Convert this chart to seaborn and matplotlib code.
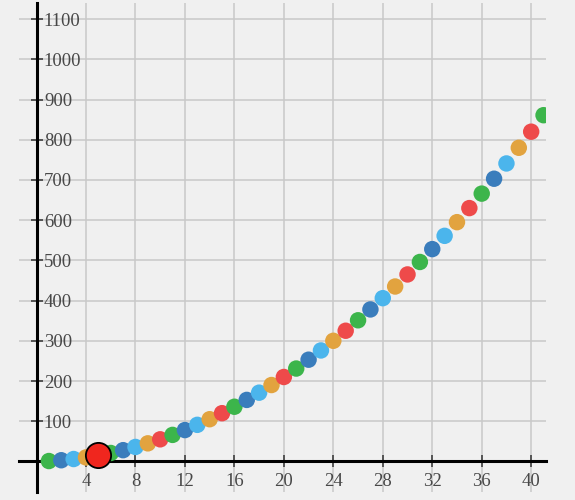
import matplotlib
matplotlib.use('Agg')
import matplotlib.pyplot as plt
import seaborn as sns
import pandas as pd

# ==========================================
# data
# ==========================================
x_vals = list(range(1, 42))
y_vals = [1, 3, 6, 10, 15, 21, 28, 36, 45, 55,
          66, 78, 91, 105, 120, 136, 153, 171, 190, 210,
          231, 253, 276, 300, 325, 351, 378, 406, 435, 465,
          496, 528, 561, 595, 630, 666, 703, 741, 780, 820, 861]
highlight_x = [5]
highlight_y = [15]

x_ticks = [4, 8, 12, 16, 20, 24, 28, 32, 36, 40]
y_ticks = [100, 200, 300, 400, 500, 600, 700, 800, 900, 1000, 1100]

dot_colors = ['#3cb54b', '#3a7dbc', '#4bb5ec', '#e2a33f', '#ee4a4a']

# ==========================================
# plot
# ==========================================
sns.set_style('white')
plt.rcParams['font.family'] = ['Liberation Serif', 'DejaVu Serif']

df = pd.DataFrame({'x': x_vals, 'y': y_vals})
df['grp'] = [(i % len(dot_colors)) for i in range(len(df))]
df_hi = pd.DataFrame({'x': highlight_x, 'y': highlight_y})

fig = plt.figure(figsize=(5.75, 5), dpi=100, facecolor='#f0f0f0')
ax = fig.add_axes([0.033, 0.016, 0.9166, 0.978])
ax.set_facecolor('#f0f0f0')

sns.scatterplot(data=df, x='x', y='y', hue='grp', palette=dot_colors,
                s=140, linewidth=0, legend=False, ax=ax, zorder=3)
sns.scatterplot(data=df_hi, x='x', y='y', color='#f0261e', s=330,
                edgecolor='black', linewidth=1.3, legend=False, ax=ax, zorder=4)
for coll in ax.collections:
    coll.set_clip_on(True)
    coll.set_clip_path(ax.patch)

ax.set_xlim(-1.42, 41.2)
ax.set_ylim(-76, 1140)
ax.set_xticks(x_ticks)
ax.set_yticks(y_ticks)

# axes through the origin, labels to the right of the y axis
ax.spines['left'].set_visible(False)
ax.spines['top'].set_visible(False)
ax.spines['right'].set_position(('data', 0))
ax.spines['bottom'].set_position(('data', 0))
for side in ['right', 'bottom']:
    ax.spines[side].set_linewidth(2.2)
    ax.spines[side].set_color('black')
    ax.spines[side].set_zorder(2)
ax.yaxis.set_ticks_position('right')
ax.xaxis.set_ticks_position('bottom')
ax.tick_params(axis='both', direction='inout', length=8.6, width=1.1,
               color='#333333', labelcolor='#484848', labelsize=13.5)
ax.tick_params(axis='y', pad=1)
ax.tick_params(axis='x', pad=4)

ax.grid(True, color='#c8c8c8', linewidth=1.1)
ax.set_axisbelow(True)
ax.set_xlabel('')
ax.set_ylabel('')

plt.savefig('out.png', dpi=100, facecolor='#f0f0f0')
